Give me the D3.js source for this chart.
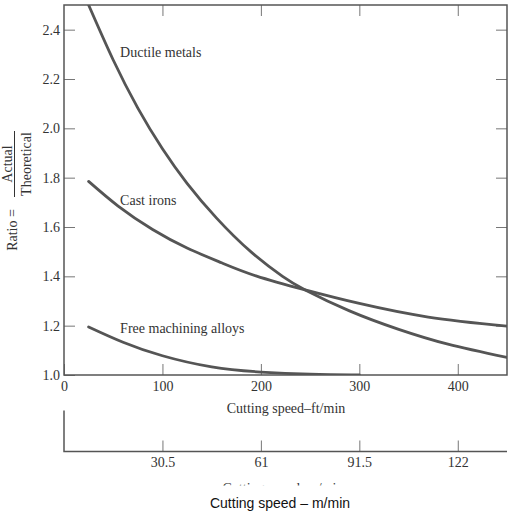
<!DOCTYPE html>
<html>
<head>
<meta charset="utf-8">
<script src="https://cdn.jsdelivr.net/npm/d3@7"></script>
<style>
  body { margin: 0; background: #fff; }
  text { font-family: "Liberation Serif", "Times New Roman", serif; fill: #333; }
</style>
</head>
<body>
<div id="chart"></div>
<script>
// tick values
var speedFtTicks = [0, 100, 200, 300, 400];
var speedMTicks = [30.5, 61, 91.5, 122];
var ratioTicks = [1.0, 1.2, 1.4, 1.6, 1.8, 2.0, 2.2, 2.4];

// curves (x = ft/min, y = ratio)
var ductileFt    = [25, 50, 75, 100, 125, 155, 190, 222, 245, 290, 340, 390, 450];
var ductileRatio = [2.50, 2.277, 2.082, 1.917, 1.777, 1.636, 1.499, 1.40, 1.345, 1.26, 1.185, 1.125, 1.071];

var castFt    = [25, 55, 90, 125, 160, 195, 245, 300, 370, 450];
var castRatio = [1.785, 1.685, 1.59, 1.515, 1.455, 1.402, 1.345, 1.29, 1.235, 1.198];

var freeFt    = [25, 60, 100, 150, 200, 250, 300];
var freeRatio = [1.195, 1.133, 1.078, 1.033, 1.012, 1.003, 1.0];

var seriesNames = ["Ductile metals", "Cast irons", "Free machining alloys"];

// set the dimensions (plot box in page pixels)
var W = 513, H = 515;
var box = {left: 64, right: 507, top: 5, bottom: 375};

var svg = d3.select("#chart")
  .append("svg")
    .attr("width", W)
    .attr("height", H);

var x = d3.scaleLinear().domain([0, 450]).range([box.left, box.right]);
var y = d3.scaleLinear().domain([1.0, 2.5]).range([box.bottom, box.top]);
// metres scale: 1 ft = 0.305 m
var xm = d3.scaleLinear().domain([0, 450 * 0.305]).range([box.left, box.right]);

// clip for the curves
svg.append("clipPath").attr("id", "plotclip")
  .append("rect")
    .attr("x", box.left).attr("y", box.top)
    .attr("width", box.right - box.left).attr("height", box.bottom - box.top);

// inner ticks on all four sides
function styleAxis(g) {
  g.select(".domain").remove();
  g.selectAll(".tick line").attr("stroke", "#777").attr("stroke-width", 1);
  g.selectAll(".tick text")
    .style("font-family", "'Liberation Serif', 'Times New Roman', serif")
    .style("font-size", "14px")
    .attr("fill", "#333");
}

svg.append("g")
  .attr("transform", "translate(0," + box.bottom + ")")
  .call(d3.axisBottom(x).tickValues(speedFtTicks).tickSize(-11).tickPadding(6).tickFormat(d3.format("d")))
  .call(styleAxis);

svg.append("g")
  .attr("transform", "translate(0," + box.top + ")")
  .call(d3.axisTop(x).tickValues(speedFtTicks.slice(1)).tickSize(-11).tickFormat(""))
  .call(styleAxis);

svg.append("g")
  .attr("transform", "translate(" + box.left + ",0)")
  .call(d3.axisLeft(y).tickValues(ratioTicks).tickSize(-11).tickPadding(4).tickFormat(d3.format(".1f")))
  .call(styleAxis);

svg.append("g")
  .attr("transform", "translate(" + box.right + ",0)")
  .call(d3.axisRight(y).tickValues(ratioTicks.slice(1)).tickSize(-11).tickFormat(""))
  .call(styleAxis);

// frame
svg.append("rect")
  .attr("x", box.left).attr("y", box.top)
  .attr("width", box.right - box.left).attr("height", box.bottom - box.top)
  .attr("fill", "none")
  .attr("stroke", "#555")
  .attr("stroke-width", 1.5);

// curves
var line = d3.line()
  .x(function(d) { return x(d[0]); })
  .y(function(d) { return y(d[1]); })
  .curve(d3.curveNatural);

var curves = [
  d3.zip(ductileFt, ductileRatio),
  d3.zip(castFt, castRatio),
  d3.zip(freeFt, freeRatio)
];

svg.append("g")
  .attr("clip-path", "url(#plotclip)")
  .selectAll("path")
  .data(curves)
  .enter()
  .append("path")
    .attr("d", line)
    .attr("fill", "none")
    .attr("stroke", "#555")
    .attr("stroke-width", 2.8)
    .attr("stroke-linecap", "round");

// curve labels
var labelAt = [[57, 2.288], [57, 1.69], [57, 1.17]];
svg.selectAll(".clabel")
  .data(seriesNames)
  .enter()
  .append("text")
    .attr("class", "clabel")
    .attr("x", function(d, i) { return x(labelAt[i][0]); })
    .attr("y", function(d, i) { return y(labelAt[i][1]); })
    .style("font-size", "14px")
    .text(function(d) { return d; });

// x axis title (ft/min)
svg.append("text")
  .attr("x", 286).attr("y", 413)
  .attr("text-anchor", "middle")
  .style("font-size", "14px")
  .text("Cutting speed\u2013ft/min");

// metric axis
svg.append("g")
  .attr("transform", "translate(0,451.5)")
  .call(d3.axisBottom(xm).tickValues(speedMTicks).tickSize(-11).tickPadding(6).tickFormat(function(d) { return String(d); }))
  .call(styleAxis);

svg.append("path")
  .attr("d", "M" + box.left + ",410.5V451.5H" + box.right)
  .attr("fill", "none")
  .attr("stroke", "#555")
  .attr("stroke-width", 1.5);

// original serif title, mostly hidden under the replacement
svg.append("clipPath").attr("id", "oldclip")
  .append("rect").attr("x", 0).attr("y", 470).attr("width", W).attr("height", 15.5);

svg.append("text")
  .attr("clip-path", "url(#oldclip)")
  .attr("x", 283).attr("y", 493)
  .attr("text-anchor", "middle")
  .style("font-size", "14px")
  .text("Cutting speed\u2013m/min");

svg.append("text")
  .attr("x", 280).attr("y", 508)
  .attr("text-anchor", "middle")
  .style("font-family", "'Liberation Sans', Arial, sans-serif")
  .style("font-size", "14px")
  .style("fill", "#111")
  .text("Cutting speed \u2013 m/min");

// y axis title: Ratio = Actual / Theoretical
var yt = svg.append("g").attr("transform", "rotate(-90)");
yt.append("text")
  .attr("x", -230).attr("y", 17)
  .attr("text-anchor", "middle")
  .style("font-size", "14px")
  .text("Ratio =");
yt.append("line")
  .attr("x1", -197).attr("x2", -131)
  .attr("y1", 14.5).attr("y2", 14.5)
  .attr("stroke", "#333").attr("stroke-width", 1);
yt.append("text")
  .attr("x", -164).attr("y", 11.5)
  .attr("text-anchor", "middle")
  .style("font-size", "14px")
  .text("Actual");
yt.append("text")
  .attr("x", -164).attr("y", 31)
  .attr("text-anchor", "middle")
  .style("font-size", "14px")
  .text("Theoretical");
</script>
</body>
</html>
